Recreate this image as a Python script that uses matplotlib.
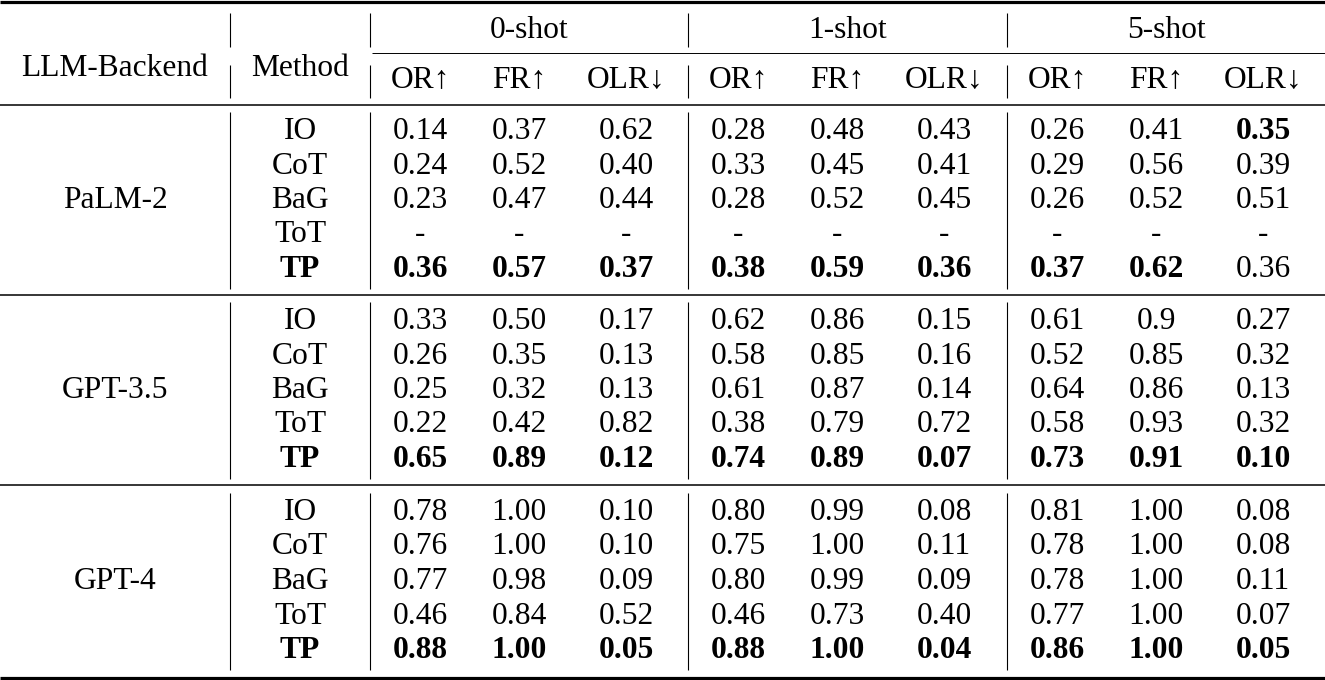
import matplotlib
matplotlib.use("Agg")
import matplotlib.pyplot as plt

plt.rcParams['font.family'] = ['Liberation Serif', 'DejaVu Serif']

# table content
backends = ['PaLM-2', 'GPT-3.5', 'GPT-4']
methods = ['IO', 'CoT', 'BaG', 'ToT', 'TP']
shots = ['0-shot', '1-shot', '5-shot']
metrics = ['OR↑', 'FR↑', 'OLR↓']

palm2 = [
    ['0.14', '0.37', '0.62', '0.28', '0.48', '0.43', '0.26', '0.41', '0.35'],
    ['0.24', '0.52', '0.40', '0.33', '0.45', '0.41', '0.29', '0.56', '0.39'],
    ['0.23', '0.47', '0.44', '0.28', '0.52', '0.45', '0.26', '0.52', '0.51'],
    ['-', '-', '-', '-', '-', '-', '-', '-', '-'],
    ['0.36', '0.57', '0.37', '0.38', '0.59', '0.36', '0.37', '0.62', '0.36'],
]
gpt35 = [
    ['0.33', '0.50', '0.17', '0.62', '0.86', '0.15', '0.61', '0.9', '0.27'],
    ['0.26', '0.35', '0.13', '0.58', '0.85', '0.16', '0.52', '0.85', '0.32'],
    ['0.25', '0.32', '0.13', '0.61', '0.87', '0.14', '0.64', '0.86', '0.13'],
    ['0.22', '0.42', '0.82', '0.38', '0.79', '0.72', '0.58', '0.93', '0.32'],
    ['0.65', '0.89', '0.12', '0.74', '0.89', '0.07', '0.73', '0.91', '0.10'],
]
gpt4 = [
    ['0.78', '1.00', '0.10', '0.80', '0.99', '0.08', '0.81', '1.00', '0.08'],
    ['0.76', '1.00', '0.10', '0.75', '1.00', '0.11', '0.78', '1.00', '0.08'],
    ['0.77', '0.98', '0.09', '0.80', '0.99', '0.09', '0.78', '1.00', '0.11'],
    ['0.46', '0.84', '0.52', '0.46', '0.73', '0.40', '0.77', '1.00', '0.07'],
    ['0.88', '1.00', '0.05', '0.88', '1.00', '0.04', '0.86', '1.00', '0.05'],
]
# bold cells: (row, col) per backend
bold_palm2 = [(0, 8)] + [(4, c) for c in range(8)]
bold_gpt35 = [(4, c) for c in range(9)]
bold_gpt4 = [(4, c) for c in range(9)]

groups = [(palm2, bold_palm2), (gpt35, bold_gpt35), (gpt4, bold_gpt4)]

W, H = 1325, 680
fig = plt.figure(figsize=(W / 100, H / 100), dpi=100)
ax = fig.add_axes([0, 0, 1, 1])
ax.set_xlim(0, W)
ax.set_ylim(H, 0)
ax.axis('off')

FS = 22.7
BASE = 10.5  # baseline offset from digit centre

# column layout
vlines = [230, 370, 688, 1007]
col_backend = 115
col_method = 300
offsets = [50, 149, 256]
data_x = [v + o for v in vlines[1:] for o in offsets]

def hrule(y, lw, x0=0, x1=W):
    ax.plot([x0, x1], [y, y], color='black', lw=lw, solid_capstyle='butt')

def vseg(x, y0, y1):
    ax.plot([x, x], [y0, y1], color='black', lw=0.8, solid_capstyle='butt')

# header
hrule(1.5, 2.3)
hrule(53, 0.7, 372, W)
hrule(104.5, 1.1)
for x in vlines:
    vseg(x, 13, 47)
    vseg(x, 65, 98)
ax.text(col_backend, 65 + BASE, 'LLM-Backend', fontsize=FS, ha='center', va='baseline')
ax.text(col_method, 65 + BASE, 'Method', fontsize=FS, ha='center', va='baseline')
for i, s in enumerate(shots):
    xc = (vlines[i + 1] + (vlines[i + 2] if i + 2 < len(vlines) else W)) / 2
    ax.text(xc, 28 + BASE, s, fontsize=FS, ha='center', va='baseline')
for j, x in enumerate(data_x):
    ax.text(x, 77 + BASE, metrics[j % 3], fontsize=FS, ha='center', va='baseline')

# body
tops = [104.5, 294.5, 485.5]
step = 34.5
for g, (rows, bold) in enumerate(groups):
    top = tops[g]
    ys = [top + 24 + step * r for r in range(len(methods))]
    bottom = ys[-1] + 28
    for x in vlines:
        vseg(x, top + 7, bottom - 6)
    ax.text(col_backend, (ys[0] + ys[-1]) / 2 + BASE, backends[g], fontsize=FS,
            ha='center', va='baseline')
    for r, m in enumerate(methods):
        ax.text(col_method, ys[r] + BASE, m, fontsize=FS, ha='center', va='baseline',
                fontweight='bold' if m == 'TP' else 'normal')
        for c, val in enumerate(rows[r]):
            ax.text(data_x[c], ys[r] + BASE, val, fontsize=FS, ha='center', va='baseline',
                    fontweight='bold' if (r, c) in bold else 'normal')
    if g < len(groups) - 1:
        hrule(bottom, 1.1)
    else:
        hrule(H - 2, 2.3)

fig.savefig('out.png', dpi=100)
